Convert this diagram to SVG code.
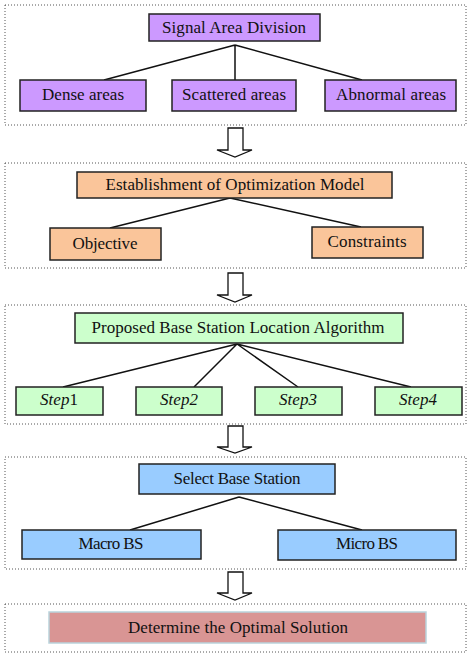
<svg xmlns="http://www.w3.org/2000/svg" width="474" height="656" viewBox="0 0 474 656">
<style>
.frame{fill:none;stroke:#555;stroke-width:1;stroke-dasharray:1 2}
.box{stroke:#222;stroke-width:1.5}
.p{fill:#cc99ff}.o{fill:#fac59a}.g{fill:#ccffcc}.b{fill:#99ccff}
.r{fill:#d99594;stroke:#b9d3dc;stroke-width:1.5}
.t{font-family:"Liberation Serif","DejaVu Serif",serif;font-size:17px;fill:#111;text-anchor:middle}
.i{font-style:italic}
.ln{stroke:#111;stroke-width:1.5;fill:none}
.ar{fill:#fff;stroke:#111;stroke-width:1.3}
</style>
<rect width="474" height="656" fill="#fff"/>
<g id="frames">
<rect class="frame" x="5" y="5" width="461" height="120"/>
<rect class="frame" x="5" y="163" width="461" height="105"/>
<rect class="frame" x="5" y="305" width="461" height="119"/>
<rect class="frame" x="5" y="457" width="461" height="112"/>
<rect class="frame" x="5" y="604" width="461" height="48"/>
</g>
<g id="connectors">
<path class="ln" d="M235 45L104 80M235 45L235 80M235 45L362 80"/>
<path class="ln" d="M230 198L110 228M230 198L361 227"/>
<path class="ln" d="M237 344L63 387M237 344L194 387M237 344L298 387M237 344L411 387"/>
<path class="ln" d="M239 497L130 530M239 497L362 530"/>
<path class="ar" d="M228 128H243V150H252L235 157L217 150H228Z"/>
<path class="ar" d="M228 273H243V295H252L235 302L217 295H228Z"/>
<path class="ar" d="M228 426H243V447H252L235 453L217 447H228Z"/>
<path class="ar" d="M228 572H243V593H252L235 600L217 593H228Z"/>
</g>
<g id="signal-area-division"><rect class="box p" x="149" y="14" width="171" height="27"/><text class="t" x="234" y="33" textLength="144">Signal Area Division</text></g>
<g id="dense-areas"><rect class="box p" x="20" y="80" width="126" height="31"/><text class="t" x="83" y="100" textLength="82">Dense areas</text></g>
<g id="scattered-areas"><rect class="box p" x="172" y="80" width="124" height="31"/><text class="t" x="234" y="100" textLength="104">Scattered areas</text></g>
<g id="abnormal-areas"><rect class="box p" x="325" y="80" width="131" height="31"/><text class="t" x="391" y="100" textLength="110">Abnormal areas</text></g>
<g id="optimization-model"><rect class="box o" x="77" y="172" width="315" height="26"/><text class="t" x="235" y="190" textLength="259">Establishment of Optimization Model</text></g>
<g id="objective"><rect class="box o" x="50" y="228" width="111" height="32"/><text class="t" x="105" y="249" textLength="65">Objective</text></g>
<g id="constraints"><rect class="box o" x="312" y="227" width="111" height="31"/><text class="t" x="367" y="247" textLength="79">Constraints</text></g>
<g id="algorithm"><rect class="box g" x="75" y="313" width="328" height="30"/><text class="t" x="238" y="333" textLength="293">Proposed Base Station Location Algorithm</text></g>
<g id="step1"><rect class="box g" x="16" y="387" width="87" height="28"/><text class="t" x="59" y="405"><tspan class="i">Step</tspan>1</text></g>
<g id="step2"><rect class="box g" x="136" y="387" width="86" height="28"/><text class="t i" x="179" y="405">Step2</text></g>
<g id="step3"><rect class="box g" x="255" y="387" width="87" height="28"/><text class="t i" x="298" y="405">Step3</text></g>
<g id="step4"><rect class="box g" x="375" y="387" width="87" height="28"/><text class="t i" x="418" y="405">Step4</text></g>
<g id="select-bs"><rect class="box b" x="139" y="464" width="196" height="30"/><text class="t" x="237" y="484" textLength="127">Select Base Station</text></g>
<g id="macro-bs"><rect class="box b" x="22" y="530" width="179" height="29"/><text class="t" x="111" y="549" textLength="65">Macro BS</text></g>
<g id="micro-bs"><rect class="box b" x="278" y="530" width="178" height="30"/><text class="t" x="367" y="549" textLength="62">Micro BS</text></g>
<g id="optimal-solution"><rect class="r" x="49" y="612" width="377" height="31"/><text class="t" x="238" y="633" textLength="220">Determine the Optimal Solution</text></g>
</svg>
